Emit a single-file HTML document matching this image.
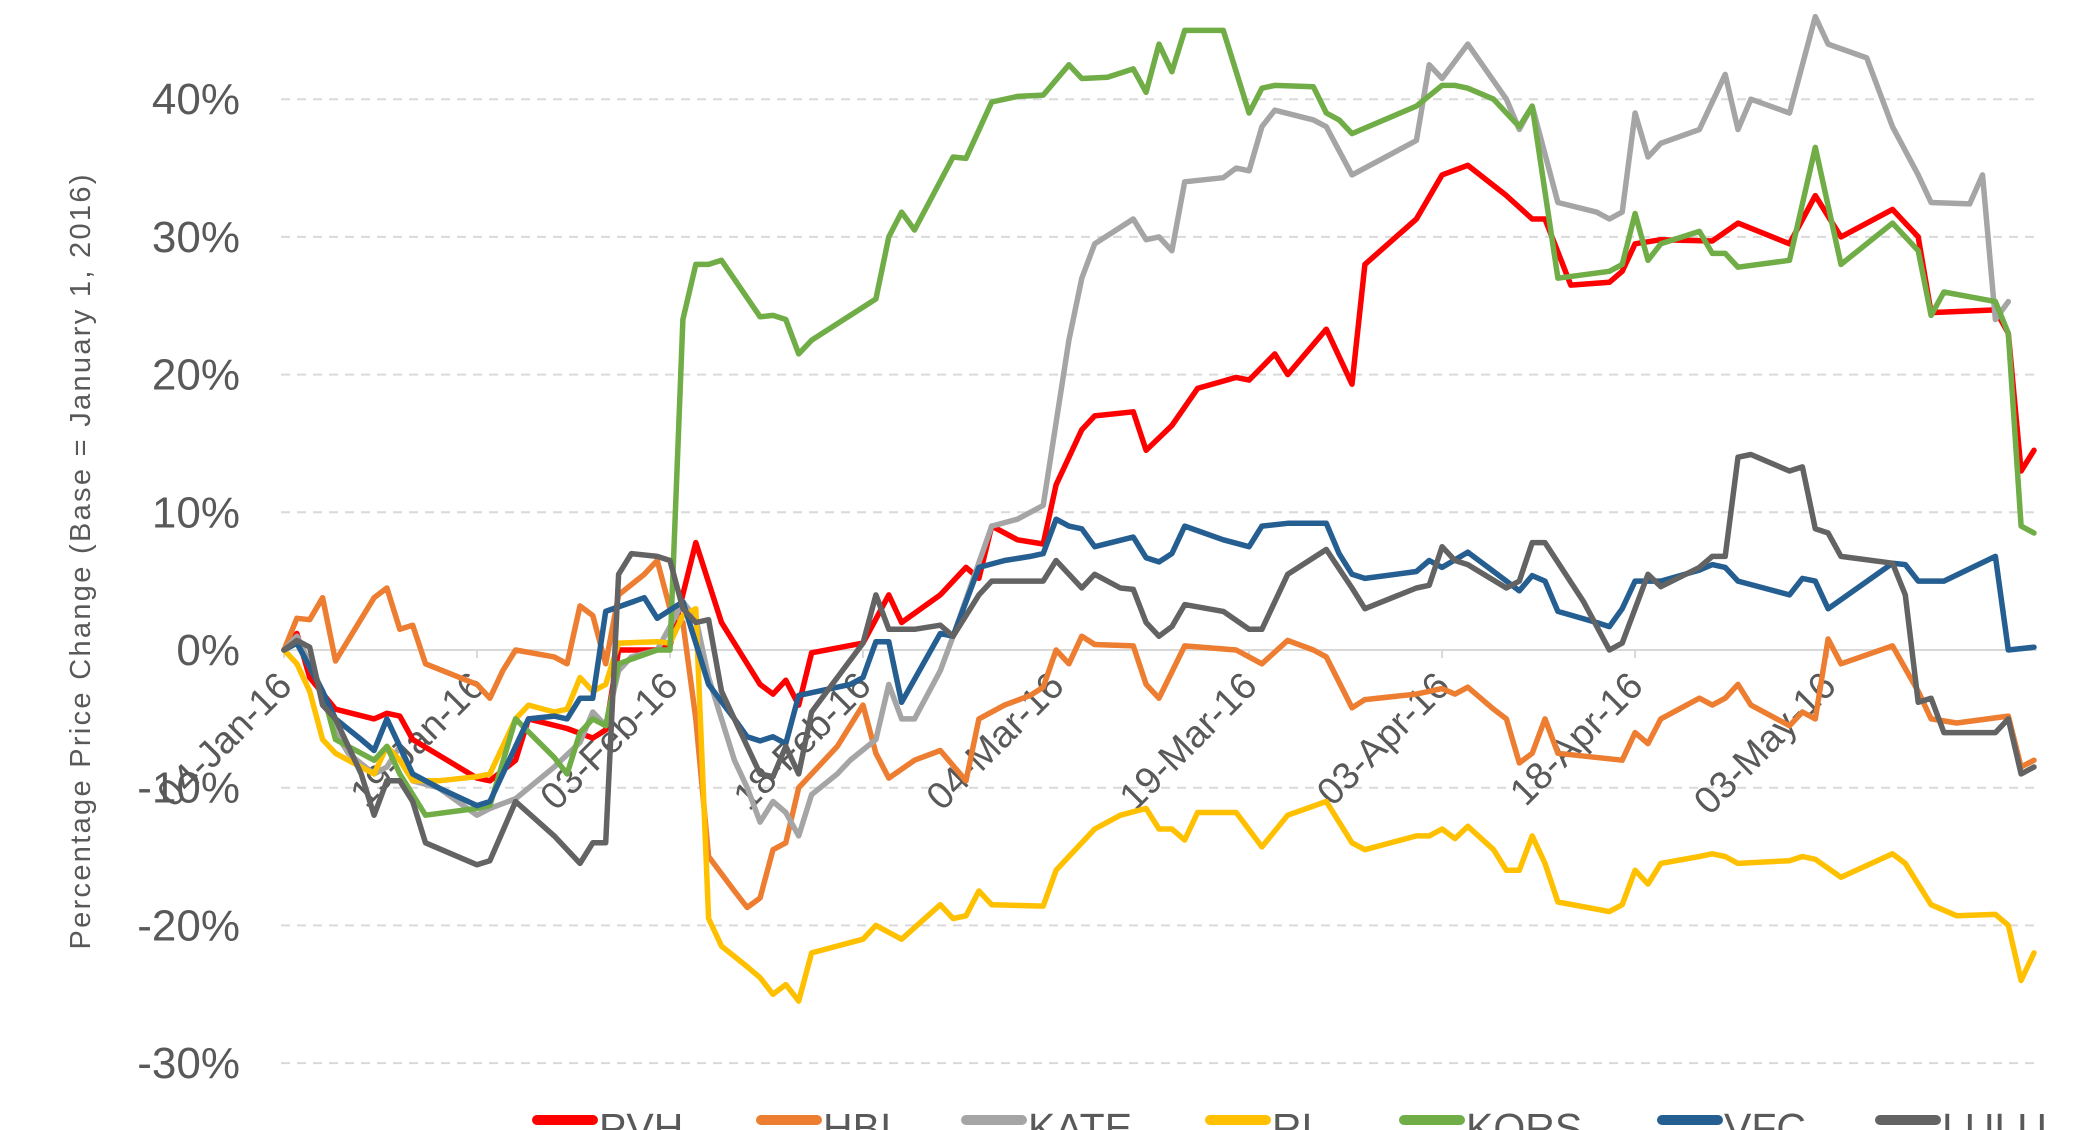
<!DOCTYPE html>
<html><head><meta charset="utf-8"><style>
html,body{margin:0;padding:0;background:#fff;}
svg{display:block;font-family:"Liberation Sans",Arial,sans-serif;}
</style></head><body>
<svg id="chart" width="2100" height="1130" viewBox="0 0 2100 1130" xmlns="http://www.w3.org/2000/svg">
<g id="grid"></g>
<g id="yticks"></g>
<g id="xticks"></g>
<g id="series"></g>
<g id="legend"></g>
<text x="0" y="0" transform="translate(90,562) rotate(-90)" text-anchor="middle" font-size="29" fill="#595959" textLength="775">Percentage Price Change (Base = January 1, 2016)</text>
</svg>
<script>
const yTickValues=[40,30,20,10,0,-10,-20,-30];
const yTickLabels=["40%","30%","20%","10%","0%","-10%","-20%","-30%"];
const xTickDays=[0,15,30,45,60,75,90,105,120];
const xTickLabels=["04-Jan-16","19-Jan-16","03-Feb-16","18-Feb-16","04-Mar-16","19-Mar-16","03-Apr-16","18-Apr-16","03-May-16"];
const seriesNames=["PVH","HBI","KATE","RL","KORS","VFC","LULU"];
const seriesColors=["#ff0000","#ed7d31","#a5a5a5","#ffc000","#70ad47","#255e91","#636363"];

const pvhDays=[0,1,2,4,7,8,9,10,15,16,18,19,22,24,25,26,29,30,32,34,36,37,38,39,40,41,45,47,48,51,53,54,55,57,59,60,62,63,66,67,69,71,74,75,77,78,81,83,84,88,90,92,95,97,98,100,103,104,105,107,111,113,117,119,121,125,127,128,133,134,135,136];
const pvhVals=[0,1.2,-2,-4.3,-5,-4.6,-4.8,-6.5,-9.3,-9.5,-8,-5,-5.7,-6.4,-5.8,0,0,0.3,7.8,2,-1,-2.5,-3.2,-2.2,-4,-0.2,0.5,4,2,4,6,5.2,9,8,7.7,12,16,17,17.3,14.5,16.3,19,19.8,19.6,21.5,20,23.3,19.3,28,31.3,34.5,35.2,33,31.3,31.3,26.5,26.7,27.5,29.5,29.8,29.7,31,29.5,33,30,32,30,24.5,24.7,23,13,14.5];

const hbiDays=[0,1,2,3,4,7,8,9,10,11,15,16,17,18,21,22,23,24,25,26,28,29,30,31,32,33,35,36,37,38,39,40,43,45,46,47,49,51,53,54,56,58,59,60,61,62,63,66,67,68,70,74,75,76,78,80,81,83,84,88,90,91,92,94,95,96,97,98,99,104,105,106,107,110,111,112,113,114,117,118,119,120,121,125,127,128,130,134,135,136];
const hbiVals=[0,2.3,2.2,3.8,-0.8,3.8,4.5,1.5,1.8,-1,-2.5,-3.5,-1.5,0,-0.5,-1,3.2,2.5,-1,4,5.5,6.5,3,2,-5,-15,-17.5,-18.7,-18,-14.5,-14,-10,-7,-4,-7.5,-9.3,-8,-7.3,-9.5,-5,-4,-3.3,-2.7,0,-1,1,0.4,0.3,-2.5,-3.5,0.3,0,-0.5,-1,0.7,0,-0.5,-4.2,-3.6,-3.2,-2.8,-3.2,-2.7,-4.3,-5,-8.2,-7.5,-5,-7.5,-8,-6,-6.8,-5,-3.5,-4,-3.5,-2.5,-4,-5.5,-4.5,-5,0.8,-1,0.3,-3,-5,-5.3,-4.8,-8.5,-8];

const kateDays=[0,1,3,4,5,7,8,9,10,12,15,16,18,21,23,24,25,26,27,29,30,31,32,33,35,36,37,38,39,40,41,43,44,46,47,48,49,51,52,55,57,59,61,62,63,66,67,68,69,70,73,74,75,76,77,80,81,83,88,89,90,92,95,96,97,99,102,103,104,105,106,107,110,112,113,114,117,119,120,123,125,127,128,131,132,133,134];
const kateVals=[0,1,-3,-6,-7.5,-9,-8.5,-7,-9.5,-10,-12,-11.5,-10.8,-8.5,-6.7,-4.5,-5.5,-1.5,-0.5,0,1.7,3.5,2.3,-2,-8,-10,-12.5,-11,-11.8,-13.5,-10.5,-9,-8,-6.5,-2.5,-5,-5,-1.5,1,9,9.5,10.5,22.5,27,29.5,31.3,29.8,30,29,34,34.3,35,34.8,38,39.2,38.5,38,34.5,37,42.5,41.5,44,40,37.8,39.5,32.5,31.8,31.3,31.8,39,35.8,36.8,37.8,41.8,37.8,40,39,46,44,43,38,34.5,32.5,32.4,34.5,24,25.3];

const rlDays=[0,1,2,3,4,5,7,8,9,10,12,15,16,18,19,21,22,23,24,25,26,29,30,31,32,33,34,36,37,38,39,40,41,45,46,48,51,52,53,54,55,59,60,61,63,65,67,68,69,70,71,74,76,78,81,83,84,88,89,90,91,92,94,95,96,97,98,99,103,104,105,106,107,110,111,112,113,117,118,119,121,125,126,127,128,130,133,134,135,136];
const rlVals=[0,-1,-3,-6.5,-7.5,-8,-9,-7,-8,-9.5,-9.5,-9.2,-9,-5,-4,-4.5,-4.3,-2,-3,-2.5,0.5,0.6,0.5,2.5,3,-19.5,-21.5,-23,-23.8,-25,-24.3,-25.5,-22,-21,-20,-21,-18.5,-19.5,-19.3,-17.5,-18.5,-18.6,-16,-15,-13,-12,-11.5,-13,-13,-13.8,-11.8,-11.8,-14.3,-12,-11,-14,-14.5,-13.5,-13.5,-13,-13.7,-12.8,-14.5,-16,-16,-13.5,-15.5,-18.3,-19,-18.5,-16,-17,-15.5,-15,-14.8,-15,-15.5,-15.3,-15,-15.2,-16.5,-14.8,-15.5,-17,-18.5,-19.3,-19.2,-20,-24,-22];

const korsDays=[0,1,3,4,5,7,8,9,10,11,15,16,18,21,22,23,24,25,26,29,30,31,32,33,34,37,38,39,40,41,46,47,48,49,52,53,55,57,59,61,62,64,66,67,68,69,70,73,75,76,77,80,81,82,83,88,90,91,92,94,95,96,97,99,103,104,105,106,107,110,111,112,113,117,119,121,125,127,128,129,133,134,135,136];
const korsVals=[0,0.5,-3,-6.5,-7,-8,-7,-9,-10.5,-12,-11.5,-11.3,-5,-7.8,-9,-6,-5,-5.5,-1,0,0,24,28,28,28.3,24.2,24.3,24,21.5,22.5,25.5,30,31.8,30.5,35.8,35.7,39.8,40.2,40.3,42.5,41.5,41.6,42.2,40.5,44,42,45,45,39,40.8,41,40.9,39,38.5,37.5,39.5,41,41,40.8,40,39,38,39.5,27,27.5,28,31.7,28.3,29.5,30.4,28.8,28.8,27.8,28.3,36.5,28,31,29,24.3,26,25.3,23,9,8.5];

const vfcDays=[0,1,3,4,6,7,8,10,12,15,16,18,19,21,22,23,24,25,28,29,31,32,33,35,36,37,38,39,40,44,45,46,47,48,51,52,54,56,58,59,60,61,62,63,66,67,68,69,70,73,75,76,78,81,82,83,84,88,89,90,92,95,96,97,98,99,102,103,104,105,107,110,111,112,113,117,118,119,120,125,126,127,129,133,134,136];
const vfcVals=[0,0.5,-3,-5,-6.5,-7.3,-5,-9,-10,-11.3,-11,-7,-5,-4.8,-5,-3.5,-3.5,2.8,3.8,2.3,3.5,0.5,-2.5,-5,-6.3,-6.6,-6.3,-6.8,-3.3,-2.5,-2,0.6,0.6,-3.8,1.2,1,6,6.5,6.8,7,9.5,9,8.8,7.5,8.2,6.7,6.4,7,9,8,7.5,9,9.2,9.2,7,5.5,5.2,5.7,6.5,6,7.1,5,4.3,5.4,5,2.8,2,1.7,3,5,5,5.8,6.2,6,5,4,5.2,5,3,6.3,6.2,5,5,6.8,0,0.2];

const luluDays=[0,1,2,3,4,6,7,8,9,10,11,15,16,18,21,23,24,25,26,27,29,30,31,32,33,34,36,37,38,39,40,41,45,46,47,49,51,52,54,55,58,59,60,62,63,65,66,67,68,69,70,73,75,76,78,81,83,84,88,89,90,91,92,95,96,97,98,101,103,104,105,106,107,110,111,112,113,114,117,118,119,120,121,125,126,127,128,129,133,134,135,136];
const luluVals=[0,0.7,0.2,-4,-5,-9,-12,-9.5,-9.5,-11,-14,-15.6,-15.3,-11,-13.5,-15.5,-14,-14,5.5,7,6.8,6.5,3,2,2.2,-3,-7,-9,-9.2,-7,-9,-4.5,0.5,4,1.5,1.5,1.8,1,4,5,5,5,6.5,4.5,5.5,4.5,4.4,2,1,1.7,3.3,2.8,1.5,1.5,5.5,7.3,4.5,3,4.5,4.7,7.5,6.5,6.2,4.5,5,7.8,7.8,3.5,0,0.5,3,5.5,4.6,6,6.8,6.8,14,14.2,13,13.3,8.8,8.5,6.8,6.3,4,-3.8,-3.5,-6,-6,-5,-9,-8.5];

const allDays=[pvhDays,hbiDays,kateDays,rlDays,korsDays,vfcDays,luluDays];
const allVals=[pvhVals,hbiVals,kateVals,rlVals,korsVals,vfcVals,luluVals];

const NS="http://www.w3.org/2000/svg";
const X0=284,X1=2034,DMAX=136;
const Y_ZERO=650,Y_PER10=137.7;
function xScale(d){return X0+(X1-X0)*d/DMAX;}
function yScale(v){return Y_ZERO-v*Y_PER10/10;}
function mk(tag,attrs,parent){const e=document.createElementNS(NS,tag);for(const k in attrs)e.setAttribute(k,attrs[k]);parent.appendChild(e);return e;}

const grid=document.getElementById('grid'),yt=document.getElementById('yticks'),xt=document.getElementById('xticks'),ser=document.getElementById('series'),leg=document.getElementById('legend');
yTickValues.forEach((v,i)=>{
  const y=yScale(v);
  if(v!==0){
    const l=mk('line',{x1:281,x2:2037,y1:y,y2:y,stroke:'#d9d9d9','stroke-width':2,'stroke-dasharray':'9,7'},grid);
    
    
  }
  const t=mk('text',{x:240,y:y+15,'text-anchor':'end','font-size':44,fill:'#595959'},yt);
  
  
  t.textContent=yTickLabels[i];
});
const axis=mk('line',{x1:281,x2:2037,y1:Y_ZERO,y2:Y_ZERO,stroke:'#d9d9d9','stroke-width':2},grid);


xTickDays.forEach((d,i)=>{
  const x=xScale(d);
  const tk=mk('line',{x1:x,x2:x,y1:Y_ZERO,y2:Y_ZERO+8,stroke:'#d9d9d9','stroke-width':2},grid);
  
  
  const t=mk('text',{x:0,y:0,'text-anchor':'end','font-size':38,fill:'#595959',transform:`translate(${x+10},${Y_ZERO+38}) rotate(-45)`},xt);
  
  
  t.textContent=xTickLabels[i];
});
allDays.forEach((days,s)=>{
  const pts=days.map((d,i)=>xScale(d).toFixed(1)+','+yScale(allVals[s][i]).toFixed(1)).join(' ');
  const p=mk('polyline',{points:pts,fill:'none',stroke:seriesColors[s],'stroke-width':5.5,'stroke-linejoin':'round','stroke-linecap':'round'},ser);
  
  
});
const legX=[533,757,962,1206,1400,1658,1876];
seriesNames.forEach((n,i)=>{
  const g=mk('g',{},leg);
  
  
  mk('line',{x1:legX[i]+4,x2:legX[i]+60,y1:1120,y2:1120,stroke:seriesColors[i],'stroke-width':10,'stroke-linecap':'round'},g);
  const t=mk('text',{x:legX[i]+66,y:1142,'font-size':41,fill:'#595959'},g);
  t.textContent=n;
});
</script>
</body></html>
